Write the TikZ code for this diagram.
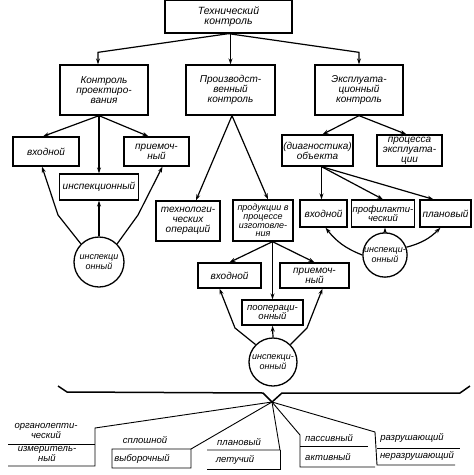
\documentclass[tikz,border=0pt]{standalone}
\usepackage{fontspec}
\setmainfont{Liberation Sans}
\usetikzlibrary{arrows.meta}

\tikzset{
  box/.style={draw, line width=1.3pt, align=center, inner sep=1pt,
    font=\itshape\fontsize{10}{10}\selectfont},
  sz/.style 2 args={minimum width=#1pt, minimum height=#2pt},
  ring/.style={draw, circle, line width=1.3pt, align=center, inner sep=0pt,
    minimum size=#1pt, font=\itshape\fontsize{9}{9.5}\selectfont},
  lbl/.style={align=center, inner sep=0pt, font=\itshape\fontsize{9.5}{8.5}\selectfont},
}

\begin{document}
\begin{tikzpicture}[x=1pt,y=-1pt,>={Stealth[length=6pt,width=4pt]},line width=1.2pt]
\useasboundingbox (0,0) rectangle (474,475);
% top level
\node[box,sz={127}{33},font=\itshape\fontsize{10.5}{10.5}\selectfont] (tk) at (228.5,16.5) {Технический\\контроль};
\node[box,sz={88}{50}] (kp) at (104,90) {Контроль\\проектиро-\\вания};
\node[box,sz={89}{50}] (pk) at (230.5,90) {Производст-\\венный\\контроль};
\node[box,sz={88}{50}] (ek) at (359,90) {Эксплуата-\\ционный\\контроль};
\draw[->] (tk.south) -- ([xshift=-6pt,yshift=12pt]kp.north) -- ([xshift=-6pt]kp.north);
\draw[->] (tk.south -| pk.north) -- (pk.north);
\draw[->] (tk.south) -- ([yshift=12pt]ek.north) -- (ek.north);

% design control
\node[box,sz={66}{29}] (vh1) at (46,151.5) {входной};
\node[box,sz={65}{29}] (pr1) at (156.5,151.5) {приемоч-\\ный};
\node[box,sz={79}{26}] (in1) at (99,187) {инспекционный};
\node[ring=50] (c1) at (99,262) {инспекци\\онный};
\coordinate (kpb) at ([xshift=-5pt]kp.south);
\draw[->] (kpb) -- ([xshift=-3pt]vh1.north);
\draw[->] (kpb) -- ([xshift=-8pt]pr1.north);
\draw[->] (kpb) -- (in1.north);
\draw[->] (c1.north) -- (in1.south);
\draw[->] (c1.135) -- (58,215) -- ([xshift=-4pt]vh1.south);
\draw[->] (c1.45) -- (138,215) -- ([xshift=6pt]pr1.south);

% production control
\node[box,sz={64}{40}] (to) at (188,221) {технологи-\\ческих\\операций};
\node[box,sz={60}{41},font=\itshape\fontsize{9}{8.7}\selectfont] (pp) at (263,220.5) {продукции в\\процессе\\изготовле-\\ния};
\node[box,sz={63}{25}] (vh2) at (229.5,275.5) {входной};
\node[box,sz={69}{25}] (pr2) at (314.5,275.5) {приемоч-\\ный};
\node[box,sz={61}{25},font=\itshape\fontsize{9.5}{9.5}\selectfont] (po) at (272.5,312.5) {поопераци-\\онный};
\node[ring=48] (c2) at (273,362) {инспекци-\\онный};
\coordinate (pkb) at ([xshift=1.5pt]pk.south);
\draw[->] (pkb) -- ([xshift=8pt]to.north);
\draw[->] (pkb) -- ([xshift=5pt]pp.north);
\coordinate (ppb) at (pp.south -| po.north);
\draw[->] (ppb) -- (vh2.north);
\draw[->] (ppb) -- (pr2.north);
\draw[->] (ppb) -- (po.north);
\draw[->] (c2.north) -- (po.south);
\draw[->] (c2.135) -- (235,328) -- ([xshift=-10pt]vh2.south);
\draw[->] (c2.45) -- (307,328) -- ([xshift=8pt]pr2.south);

% operational control
\node[box,sz={71}{31}] (do) at (317.5,150.5) {(диагностика)\\объекта};
\node[box,sz={65}{31}] (pe) at (409.5,150.5) {процесса\\эксплуата-\\ции};
\node[box,sz={47}{27}] (vh3) at (323.5,213.5) {входной};
\node[box,sz={60}{27},font=\itshape\fontsize{9.5}{9.5}\selectfont] (pf) at (383,213.5) {профилакти-\\ческий};
\node[box,sz={51}{27}] (pl) at (445.5,213.5) {плановый};
\node[ring=44] (c3) at (385,255) {инспекци-\\онный};
\draw[->] (ek.south) -- ([xshift=5pt]do.north);
\draw[->] (ek.south) -- ([xshift=-3pt]pe.north);
\coordinate (dob) at ([xshift=4pt]do.south);
\draw[->] (dob) -- (dob |- vh3.north);
\draw[->] (dob) -- (pf.north);
\draw[->] (dob) -- ([xshift=-12pt]pl.north);
\draw[->] (c3.north) -- (c3.north |- pf.south);
\draw[->] (c3.west) to[bend left=15] ([xshift=2pt]vh3.south);
\draw[->] (c3.20) to[bend right=15] ([xshift=-5pt]pl.south);

% methods
\coordinate (v) at (272,402);
\draw[line width=1.5pt] (58,386) -- (67,392) -- (263,393) -- (v) -- (282,393) -- (460,393) -- (470,386);
\begin{scope}[line width=0.9pt]
\draw (v) -- (95,428) -- (95,466) -- (8,466);
\draw (8,444) -- (95,444);
\draw (v) -- (191,449) -- (112,449) -- (112,468) -- (191,468) -- (191,449);
\draw (v) -- (280,450) -- (207,450);
\draw (280,450) -- (280,469) -- (207,469);
\draw (v) -- (300,435) -- (300,467) -- (375,467);
\draw (300,446) -- (368,446);
\draw (v) -- (375,432) -- (377,465) -- (455,465);
\draw (377,448) -- (460,448);
\end{scope}
\node[lbl] (org) at (46,431) {органолепти-\\ческий};
\node[lbl] (izm) at (47,454) {измеритель-\\ный};
\node[lbl] (spl) at (145,440) {сплошной};
\node[lbl] (vyb) at (142,459) {выборочный};
\node[lbl] (pln) at (239,442) {плановый};
\node[lbl] (let) at (235,460) {летучий};
\node[lbl] (pas) at (329,438) {пассивный};
\node[lbl] (akt) at (328,457) {активный};
\node[lbl] (raz) at (412,438) {разрушающий};
\node[lbl] (ner) at (417,456) {неразрушающий};
\end{tikzpicture}
\end{document}
